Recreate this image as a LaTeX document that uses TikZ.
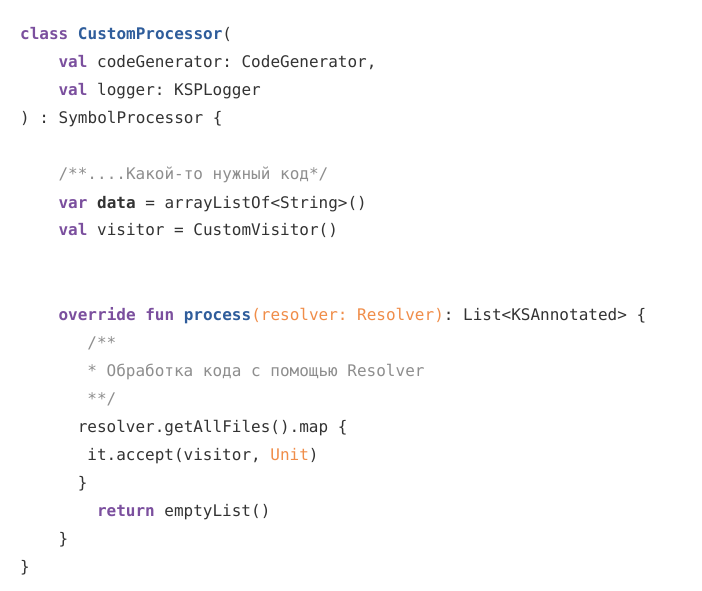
\documentclass[tikz,border=0pt]{standalone}
\usepackage{fontspec}
\setmonofont{DejaVu Sans Mono}
\definecolor{kw}{HTML}{7B4F9E}
\definecolor{fn}{HTML}{2F5D9B}
\definecolor{par}{HTML}{F08D49}
\definecolor{cm}{HTML}{8E8E8E}
\definecolor{tx}{HTML}{333333}
\newcommand{\cKw}[1]{\textcolor{kw}{\bfseries #1}}
\newcommand{\cFn}[1]{\textcolor{fn}{\bfseries #1}}
\newcommand{\cPa}[1]{\textcolor{par}{#1}}
\newcommand{\cCm}[1]{\textcolor{cm}{#1}}
\begin{document}
\begin{tikzpicture}[x=1pt,y=-1pt,
  codeline/.style={anchor=base west,inner sep=0pt,font=\ttfamily\fontsize{16}{18}\selectfont,text=tx}]
\useasboundingbox[fill=white] (0,0) rectangle (702,591);
\node[codeline] (l1) at (20,40) {\cKw{class} \cFn{CustomProcessor}(};
\node[codeline] (l2) at (58.4,68) {\cKw{val} codeGenerator: CodeGenerator,};
\node[codeline] (l3) at (58.4,96) {\cKw{val} logger: KSPLogger};
\node[codeline] (l4) at (20,124) {) : SymbolProcessor \{};
\node[codeline] (l5) at (58.4,180) {\cCm{/**....Какой-то нужный код*/}};
\node[codeline] (l6) at (58.4,208) {\cKw{var} \textbf{data} = arrayListOf<String>()};
\node[codeline] (l7) at (58.4,236) {\cKw{val} visitor = CustomVisitor()};
\node[codeline] (l8) at (58.4,320) {\cKw{override} \cKw{fun} \cFn{process}\cPa{(resolver: Resolver)}: List<KSAnnotated> \{};
\node[codeline] (l9) at (87.2,348) {\cCm{/**}};
\node[codeline] (l10) at (87.2,376) {\cCm{* Обработка кода с помощью Resolver}};
\node[codeline] (l11) at (87.2,404) {\cCm{**/}};
\node[codeline] (l12) at (77.6,432) {resolver.getAllFiles().map \{};
\node[codeline] (l13) at (87.2,460) {it.accept(visitor, \cPa{Unit})};
\node[codeline] (l14) at (77.6,488) {\}};
\node[codeline] (l15) at (96.8,516) {\cKw{return} emptyList()};
\node[codeline] (l16) at (58.4,544) {\}};
\node[codeline] (l17) at (20,572) {\}};
\end{tikzpicture}
\end{document}
